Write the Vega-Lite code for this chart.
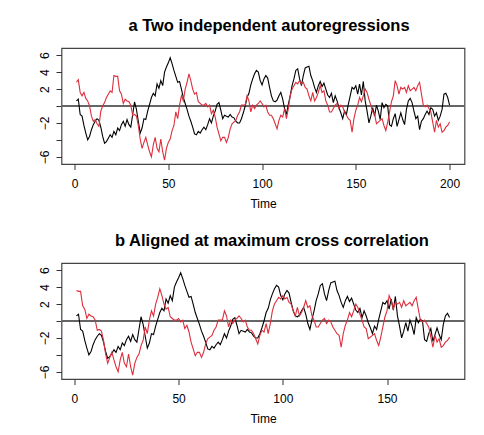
{
  "$schema": "https://vega.github.io/schema/vega-lite/v6.json",
  "padding": {"left": 37.5, "top": 16, "right": 0, "bottom": 0},
  "spacing": 20,
  "config": {
    "font": "Liberation Sans",
    "view": {"stroke": "#444", "strokeWidth": 1.2},
    "title": {"fontSize": 16.5, "fontWeight": "bold", "color": "black", "anchor": "middle", "offset": 14},
    "axis": {
      "grid": false,
      "domain": false,
      "tickColor": "#333",
      "tickSize": 5.5,
      "labelFontSize": 12,
      "labelColor": "black",
      "labelOverlap": false,
      "labelFlush": false,
      "titleFontSize": 12,
      "titleFontWeight": "normal",
      "titleColor": "black"
    },
    "axisX": {"labelPadding": 9, "titleBaseline": "alphabetic", "titleY": 43.5},
    "axisY": {"labelAngle": 270, "labelAlign": "center", "labelBaseline": "alphabetic", "labelPadding": 7.5, "tickCount": 14}
  },
  "datasets": {
    "a": [
      {"t":1,"x":0.6,"y":2.8},{"t":2,"x":0.8,"y":3.1},{"t":3,"x":-1.0,"y":1.6},{"t":4,"x":-1.2,"y":1.2},{"t":5,"x":-2.3,"y":1.6},
      {"t":6,"x":-3.2,"y":0.9},{"t":7,"x":-4.0,"y":0.6},{"t":8,"x":-3.6,"y":0.0},{"t":9,"x":-2.8,"y":-1.2},{"t":10,"x":-2.2,"y":-1.8},
      {"t":11,"x":-1.8,"y":-1.6},{"t":12,"x":-1.5,"y":-2.1},{"t":13,"x":-1.7,"y":-2.4},{"t":14,"x":-2.5,"y":-0.6},{"t":15,"x":-3.6,"y":0.0},
      {"t":16,"x":-4.4,"y":0.4},{"t":17,"x":-4.2,"y":1.0},{"t":18,"x":-3.8,"y":1.4},{"t":19,"x":-3.4,"y":1.8},{"t":20,"x":-3.7,"y":1.6},
      {"t":21,"x":-3.0,"y":3.6},{"t":22,"x":-3.4,"y":3.5},{"t":23,"x":-2.6,"y":3.5},{"t":24,"x":-2.9,"y":1.8},{"t":25,"x":-2.2,"y":1.4},
      {"t":26,"x":-1.8,"y":0.3},{"t":27,"x":-2.4,"y":0.8},{"t":28,"x":-1.6,"y":0.6},{"t":29,"x":-2.2,"y":0.5},{"t":30,"x":-2.5,"y":0.1},
      {"t":31,"x":-1.0,"y":-1.1},{"t":32,"x":0.5,"y":-1.0},{"t":33,"x":-0.4,"y":-1.2},{"t":34,"x":-1.8,"y":-2.3},{"t":35,"x":-3.2,"y":-3.9},
      {"t":36,"x":-2.6,"y":-5.0},{"t":37,"x":-1.5,"y":-4.3},{"t":38,"x":-1.6,"y":-3.7},{"t":39,"x":-0.6,"y":-4.6},{"t":40,"x":0.2,"y":-5.4},
      {"t":41,"x":1.0,"y":-6.0},{"t":42,"x":1.5,"y":-4.6},{"t":43,"x":1.2,"y":-3.7},{"t":44,"x":2.6,"y":-5.0},{"t":45,"x":2.1,"y":-5.4},
      {"t":46,"x":3.0,"y":-3.9},{"t":47,"x":2.4,"y":-5.4},{"t":48,"x":4.0,"y":-6.4},{"t":49,"x":4.6,"y":-5.0},{"t":50,"x":5.1,"y":-4.3},
      {"t":51,"x":5.7,"y":-3.9},{"t":52,"x":5.0,"y":-2.9},{"t":53,"x":4.2,"y":-2.3},{"t":54,"x":3.5,"y":-0.7},{"t":55,"x":2.8,"y":-1.5},
      {"t":56,"x":2.9,"y":0.1},{"t":57,"x":2.0,"y":1.2},{"t":58,"x":1.0,"y":0.6},{"t":59,"x":0.3,"y":2.0},{"t":60,"x":-0.4,"y":2.8},
      {"t":61,"x":-1.2,"y":3.8},{"t":62,"x":-1.8,"y":3.0},{"t":63,"x":-2.5,"y":2.0},{"t":64,"x":-3.3,"y":1.4},{"t":65,"x":-3.4,"y":1.6},
      {"t":66,"x":-3.0,"y":0.5},{"t":67,"x":-3.2,"y":0.3},{"t":68,"x":-2.8,"y":0.1},{"t":69,"x":-2.5,"y":0.1},{"t":70,"x":-2.8,"y":0.3},
      {"t":71,"x":-2.2,"y":-0.1},{"t":72,"x":-1.5,"y":0.1},{"t":73,"x":-2.0,"y":-0.9},{"t":74,"x":-1.2,"y":-0.5},{"t":75,"x":-0.6,"y":-1.3},
      {"t":76,"x":0.2,"y":-2.5},{"t":77,"x":0.4,"y":-3.3},{"t":78,"x":-0.5,"y":-4.1},{"t":79,"x":-1.5,"y":-3.7},{"t":80,"x":-1.1,"y":-3.7},
      {"t":81,"x":-1.2,"y":-4.3},{"t":82,"x":-1.3,"y":-3.7},{"t":83,"x":-1.0,"y":-2.7},{"t":84,"x":-1.3,"y":-2.1},{"t":85,"x":-1.4,"y":-1.9},
      {"t":86,"x":-1.8,"y":-1.7},{"t":87,"x":-2.0,"y":-1.1},{"t":88,"x":-2.0,"y":-0.7},{"t":89,"x":-1.5,"y":0.1},{"t":90,"x":-0.8,"y":0.1},
      {"t":91,"x":0.0,"y":0.1},{"t":92,"x":1.0,"y":1.2},{"t":93,"x":1.5,"y":0.6},{"t":94,"x":2.5,"y":-0.7},{"t":95,"x":3.2,"y":0.1},
      {"t":96,"x":3.8,"y":-0.3},{"t":97,"x":4.2,"y":0.1},{"t":98,"x":4.0,"y":0.3},{"t":99,"x":3.0,"y":0.6},{"t":100,"x":2.5,"y":0.3},
      {"t":101,"x":3.2,"y":-0.1},{"t":102,"x":3.6,"y":0.1},{"t":103,"x":3.3,"y":-0.7},{"t":104,"x":2.2,"y":-1.1},{"t":105,"x":1.2,"y":-1.1},
      {"t":106,"x":0.6,"y":-1.5},{"t":107,"x":0.5,"y":-2.1},{"t":108,"x":0.7,"y":-2.7},{"t":109,"x":1.2,"y":-1.7},{"t":110,"x":1.6,"y":-1.1},
      {"t":111,"x":0.8,"y":-1.3},{"t":112,"x":-0.3,"y":-0.3},{"t":113,"x":-1.0,"y":-1.5},{"t":114,"x":0.2,"y":-0.3},{"t":115,"x":1.2,"y":1.2},
      {"t":116,"x":2.4,"y":2.0},{"t":117,"x":3.2,"y":2.4},{"t":118,"x":4.2,"y":2.8},{"t":119,"x":4.4,"y":2.6},{"t":120,"x":3.2,"y":3.0},
      {"t":121,"x":2.4,"y":2.6},{"t":122,"x":3.6,"y":2.8},{"t":123,"x":4.5,"y":2.2},{"t":124,"x":4.6,"y":2.0},{"t":125,"x":4.7,"y":1.2},
      {"t":126,"x":3.6,"y":0.6},{"t":127,"x":3.0,"y":1.6},{"t":128,"x":2.2,"y":0.6},{"t":129,"x":1.6,"y":1.0},{"t":130,"x":2.4,"y":1.6},
      {"t":131,"x":2.9,"y":2.4},{"t":132,"x":2.3,"y":1.6},{"t":133,"x":2.7,"y":1.8},{"t":134,"x":2.0,"y":0.6},{"t":135,"x":1.3,"y":0.1},
      {"t":136,"x":1.0,"y":-0.7},{"t":137,"x":1.5,"y":-0.7},{"t":138,"x":0.4,"y":-0.3},{"t":139,"x":1.2,"y":0.1},{"t":140,"x":0.6,"y":0.3},
      {"t":141,"x":-0.2,"y":-0.3},{"t":142,"x":-0.8,"y":0.1},{"t":143,"x":-1.5,"y":-0.1},{"t":144,"x":-0.6,"y":-0.7},{"t":145,"x":-1.0,"y":-1.1},
      {"t":146,"x":0.2,"y":-1.5},{"t":147,"x":1.2,"y":-1.7},{"t":148,"x":2.2,"y":-3.1},{"t":149,"x":2.0,"y":-1.5},{"t":150,"x":2.4,"y":-0.5},
      {"t":151,"x":1.4,"y":0.1},{"t":152,"x":2.6,"y":1.0},{"t":153,"x":1.3,"y":0.5},{"t":154,"x":2.9,"y":1.2},{"t":155,"x":0.6,"y":2.0},
      {"t":156,"x":-0.6,"y":1.6},{"t":157,"x":-2.0,"y":0.8},{"t":158,"x":-1.2,"y":0.1},{"t":159,"x":-0.2,"y":-0.7},{"t":160,"x":-1.2,"y":-0.9},
      {"t":161,"x":0.1,"y":-2.1},{"t":162,"x":-0.6,"y":-1.9},{"t":163,"x":-1.6,"y":-1.7},{"t":164,"x":0.4,"y":-1.5},{"t":165,"x":-0.2,"y":-2.3},
      {"t":166,"x":0.2,"y":-2.9},{"t":167,"x":0.0,"y":-1.9},{"t":168,"x":-2.2,"y":-0.7},{"t":169,"x":-2.4,"y":0.5},{"t":170,"x":-1.5,"y":1.2},
      {"t":171,"x":-0.9,"y":3.0},{"t":172,"x":-2.4,"y":2.4},{"t":173,"x":-1.6,"y":1.4},{"t":174,"x":-0.8,"y":2.2},{"t":175,"x":-1.6,"y":2.0},
      {"t":176,"x":-2.2,"y":2.2},{"t":177,"x":-0.4,"y":1.6},{"t":178,"x":0.6,"y":2.4},{"t":179,"x":0.9,"y":1.8},{"t":180,"x":0.4,"y":2.0},
      {"t":181,"x":-0.6,"y":2.2},{"t":182,"x":-1.5,"y":1.8},{"t":183,"x":-1.2,"y":2.4},{"t":184,"x":-2.8,"y":2.8},{"t":185,"x":-1.8,"y":1.4},
      {"t":186,"x":-1.5,"y":0.1},{"t":187,"x":-1.0,"y":-0.1},{"t":188,"x":-0.6,"y":0.1},{"t":189,"x":-1.0,"y":-0.3},{"t":190,"x":-0.2,"y":-0.7},
      {"t":191,"x":-0.4,"y":-1.9},{"t":192,"x":-1.2,"y":-3.1},{"t":193,"x":-0.8,"y":-1.7},{"t":194,"x":-1.7,"y":-2.5},{"t":195,"x":-1.2,"y":-2.1},
      {"t":196,"x":-0.4,"y":-3.1},{"t":197,"x":1.4,"y":-2.9},{"t":198,"x":1.5,"y":-2.5},{"t":199,"x":1.0,"y":-2.3},{"t":200,"x":0.1,"y":-1.9}
    ],
    "b": [
      {"t":1,"x":0.6,"y":3.6},{"t":2,"x":0.8,"y":3.5},{"t":3,"x":-1.0,"y":3.5},{"t":4,"x":-1.2,"y":1.8},{"t":5,"x":-2.3,"y":1.4},
      {"t":6,"x":-3.2,"y":0.3},{"t":7,"x":-4.0,"y":0.8},{"t":8,"x":-3.6,"y":0.6},{"t":9,"x":-2.8,"y":0.5},{"t":10,"x":-2.2,"y":0.1},
      {"t":11,"x":-1.8,"y":-1.1},{"t":12,"x":-1.5,"y":-1.0},{"t":13,"x":-1.7,"y":-1.2},{"t":14,"x":-2.5,"y":-2.3},{"t":15,"x":-3.6,"y":-3.9},
      {"t":16,"x":-4.4,"y":-5.0},{"t":17,"x":-4.2,"y":-4.3},{"t":18,"x":-3.8,"y":-3.7},{"t":19,"x":-3.4,"y":-4.6},{"t":20,"x":-3.7,"y":-5.4},
      {"t":21,"x":-3.0,"y":-6.0},{"t":22,"x":-3.4,"y":-4.6},{"t":23,"x":-2.6,"y":-3.7},{"t":24,"x":-2.9,"y":-5.0},{"t":25,"x":-2.2,"y":-5.4},
      {"t":26,"x":-1.8,"y":-3.9},{"t":27,"x":-2.4,"y":-5.4},{"t":28,"x":-1.6,"y":-6.4},{"t":29,"x":-2.2,"y":-5.0},{"t":30,"x":-2.5,"y":-4.3},
      {"t":31,"x":-1.0,"y":-3.9},{"t":32,"x":0.5,"y":-2.9},{"t":33,"x":-0.4,"y":-2.3},{"t":34,"x":-1.8,"y":-0.7},{"t":35,"x":-3.2,"y":-1.5},
      {"t":36,"x":-2.6,"y":0.1},{"t":37,"x":-1.5,"y":1.2},{"t":38,"x":-1.6,"y":0.6},{"t":39,"x":-0.6,"y":2.0},{"t":40,"x":0.2,"y":2.8},
      {"t":41,"x":1.0,"y":3.8},{"t":42,"x":1.5,"y":3.0},{"t":43,"x":1.2,"y":2.0},{"t":44,"x":2.6,"y":1.4},{"t":45,"x":2.1,"y":1.6},
      {"t":46,"x":3.0,"y":0.5},{"t":47,"x":2.4,"y":0.3},{"t":48,"x":4.0,"y":0.1},{"t":49,"x":4.6,"y":0.1},{"t":50,"x":5.1,"y":0.3},
      {"t":51,"x":5.7,"y":-0.1},{"t":52,"x":5.0,"y":0.1},{"t":53,"x":4.2,"y":-0.9},{"t":54,"x":3.5,"y":-0.5},{"t":55,"x":2.8,"y":-1.3},
      {"t":56,"x":2.9,"y":-2.5},{"t":57,"x":2.0,"y":-3.3},{"t":58,"x":1.0,"y":-4.1},{"t":59,"x":0.3,"y":-3.7},{"t":60,"x":-0.4,"y":-3.7},
      {"t":61,"x":-1.2,"y":-4.3},{"t":62,"x":-1.8,"y":-3.7},{"t":63,"x":-2.5,"y":-2.7},{"t":64,"x":-3.3,"y":-2.1},{"t":65,"x":-3.4,"y":-1.9},
      {"t":66,"x":-3.0,"y":-1.7},{"t":67,"x":-3.2,"y":-1.1},{"t":68,"x":-2.8,"y":-0.7},{"t":69,"x":-2.5,"y":0.1},{"t":70,"x":-2.8,"y":0.1},
      {"t":71,"x":-2.2,"y":0.1},{"t":72,"x":-1.5,"y":1.2},{"t":73,"x":-2.0,"y":0.6},{"t":74,"x":-1.2,"y":-0.7},{"t":75,"x":-0.6,"y":0.1},
      {"t":76,"x":0.2,"y":-0.3},{"t":77,"x":0.4,"y":0.1},{"t":78,"x":-0.5,"y":0.3},{"t":79,"x":-1.5,"y":0.6},{"t":80,"x":-1.1,"y":0.3},
      {"t":81,"x":-1.2,"y":-0.1},{"t":82,"x":-1.3,"y":0.1},{"t":83,"x":-1.0,"y":-0.7},{"t":84,"x":-1.3,"y":-1.1},{"t":85,"x":-1.4,"y":-1.1},
      {"t":86,"x":-1.8,"y":-1.5},{"t":87,"x":-2.0,"y":-2.1},{"t":88,"x":-2.0,"y":-2.7},{"t":89,"x":-1.5,"y":-1.7},{"t":90,"x":-0.8,"y":-1.1},
      {"t":91,"x":0.0,"y":-1.3},{"t":92,"x":1.0,"y":-0.3},{"t":93,"x":1.5,"y":-1.5},{"t":94,"x":2.5,"y":-0.3},{"t":95,"x":3.2,"y":1.2},
      {"t":96,"x":3.8,"y":2.0},{"t":97,"x":4.2,"y":2.4},{"t":98,"x":4.0,"y":2.8},{"t":99,"x":3.0,"y":2.6},{"t":100,"x":2.5,"y":3.0},
      {"t":101,"x":3.2,"y":2.6},{"t":102,"x":3.6,"y":2.8},{"t":103,"x":3.3,"y":2.2},{"t":104,"x":2.2,"y":2.0},{"t":105,"x":1.2,"y":1.2},
      {"t":106,"x":0.6,"y":0.6},{"t":107,"x":0.5,"y":1.6},{"t":108,"x":0.7,"y":0.6},{"t":109,"x":1.2,"y":1.0},{"t":110,"x":1.6,"y":1.6},
      {"t":111,"x":0.8,"y":2.4},{"t":112,"x":-0.3,"y":1.6},{"t":113,"x":-1.0,"y":1.8},{"t":114,"x":0.2,"y":0.6},{"t":115,"x":1.2,"y":0.1},
      {"t":116,"x":2.4,"y":-0.7},{"t":117,"x":3.2,"y":-0.7},{"t":118,"x":4.2,"y":-0.3},{"t":119,"x":4.4,"y":0.1},{"t":120,"x":3.2,"y":0.3},
      {"t":121,"x":2.4,"y":-0.3},{"t":122,"x":3.6,"y":0.1},{"t":123,"x":4.5,"y":-0.1},{"t":124,"x":4.6,"y":-0.7},{"t":125,"x":4.7,"y":-1.1},
      {"t":126,"x":3.6,"y":-1.5},{"t":127,"x":3.0,"y":-1.7},{"t":128,"x":2.2,"y":-3.1},{"t":129,"x":1.6,"y":-1.5},{"t":130,"x":2.4,"y":-0.5},
      {"t":131,"x":2.9,"y":0.1},{"t":132,"x":2.3,"y":1.0},{"t":133,"x":2.7,"y":0.5},{"t":134,"x":2.0,"y":1.2},{"t":135,"x":1.3,"y":2.0},
      {"t":136,"x":1.0,"y":1.6},{"t":137,"x":1.5,"y":0.8},{"t":138,"x":0.4,"y":0.1},{"t":139,"x":1.2,"y":-0.7},{"t":140,"x":0.6,"y":-0.9},
      {"t":141,"x":-0.2,"y":-2.1},{"t":142,"x":-0.8,"y":-1.9},{"t":143,"x":-1.5,"y":-1.7},{"t":144,"x":-0.6,"y":-1.5},{"t":145,"x":-1.0,"y":-2.3},
      {"t":146,"x":0.2,"y":-2.9},{"t":147,"x":1.2,"y":-1.9},{"t":148,"x":2.2,"y":-0.7},{"t":149,"x":2.0,"y":0.5},{"t":150,"x":2.4,"y":1.2},
      {"t":151,"x":1.4,"y":3.0},{"t":152,"x":2.6,"y":2.4},{"t":153,"x":1.3,"y":1.4},{"t":154,"x":2.9,"y":2.2},{"t":155,"x":0.6,"y":2.0},
      {"t":156,"x":-0.6,"y":2.2},{"t":157,"x":-2.0,"y":1.6},{"t":158,"x":-1.2,"y":2.4},{"t":159,"x":-0.2,"y":1.8},{"t":160,"x":-1.2,"y":2.0},
      {"t":161,"x":0.1,"y":2.2},{"t":162,"x":-0.6,"y":1.8},{"t":163,"x":-1.6,"y":2.4},{"t":164,"x":0.4,"y":2.8},{"t":165,"x":-0.2,"y":1.4},
      {"t":166,"x":0.2,"y":0.1},{"t":167,"x":0.0,"y":-0.1},{"t":168,"x":-2.2,"y":0.1},{"t":169,"x":-2.4,"y":-0.3},{"t":170,"x":-1.5,"y":-0.7},
      {"t":171,"x":-0.9,"y":-1.9},{"t":172,"x":-2.4,"y":-3.1},{"t":173,"x":-1.6,"y":-1.7},{"t":174,"x":-0.8,"y":-2.5},{"t":175,"x":-1.6,"y":-2.1},
      {"t":176,"x":-2.2,"y":-3.1},{"t":177,"x":-0.4,"y":-2.9},{"t":178,"x":0.6,"y":-2.5},{"t":179,"x":0.9,"y":-2.3},{"t":180,"x":0.4,"y":-1.9}
    ]
  },
  "vconcat": [
    {
      "title": {"text": "a Two independent autoregressions", "dx": 6},
      "width": 403,
      "height": 116,
      "data": {"name": "a"},
      "layer": [
        {
          "mark": {"type": "rule", "color": "#666", "strokeWidth": 1.4},
          "encoding": {"y": {"datum": 0, "type": "quantitative"}}
        },
        {
          "mark": {"type": "line", "color": "black", "strokeWidth": 1.1},
          "encoding": {
            "x": {"field": "t", "type": "quantitative", "title": "Time",
                  "scale": {"domain": [-6.96, 207.96], "nice": false, "zero": false},
                  "axis": {"values": [0, 50, 100, 150, 200]}},
            "y": {"field": "x", "type": "quantitative", "title": null,
                  "scale": {"domain": [-6.85, 6.85], "nice": false, "zero": false},
                  "axis": {"values": [-6, -4, -2, 0, 2, 4, 6], "tickCount": 14,
                           "labelExpr": "(datum.value == 0 || datum.value == -4) ? '' : datum.label"}}
          }
        },
        {
          "mark": {"type": "line", "color": "#dc2e3c", "strokeWidth": 1.1},
          "encoding": {
            "x": {"field": "t", "type": "quantitative"},
            "y": {"field": "y", "type": "quantitative"}
          }
        }
      ]
    },
    {
      "title": {"text": "b Aligned at maximum cross correlation", "dx": 9},
      "width": 403,
      "height": 116,
      "data": {"name": "b"},
      "layer": [
        {
          "mark": {"type": "rule", "color": "#666", "strokeWidth": 1.4},
          "encoding": {"y": {"datum": 0, "type": "quantitative"}}
        },
        {
          "mark": {"type": "line", "color": "black", "strokeWidth": 1.1},
          "encoding": {
            "x": {"field": "t", "type": "quantitative", "title": "Time",
                  "scale": {"domain": [-6.16, 187.16], "nice": false, "zero": false},
                  "axis": {"values": [0, 50, 100, 150]}},
            "y": {"field": "x", "type": "quantitative", "title": null,
                  "scale": {"domain": [-6.85, 6.85], "nice": false, "zero": false},
                  "axis": {"values": [-6, -4, -2, 0, 2, 4, 6], "tickCount": 14,
                           "labelExpr": "(datum.value == 0 || datum.value == -4) ? '' : datum.label"}}
          }
        },
        {
          "mark": {"type": "line", "color": "#dc2e3c", "strokeWidth": 1.1},
          "encoding": {
            "x": {"field": "t", "type": "quantitative"},
            "y": {"field": "y", "type": "quantitative"}
          }
        }
      ]
    }
  ]
}
